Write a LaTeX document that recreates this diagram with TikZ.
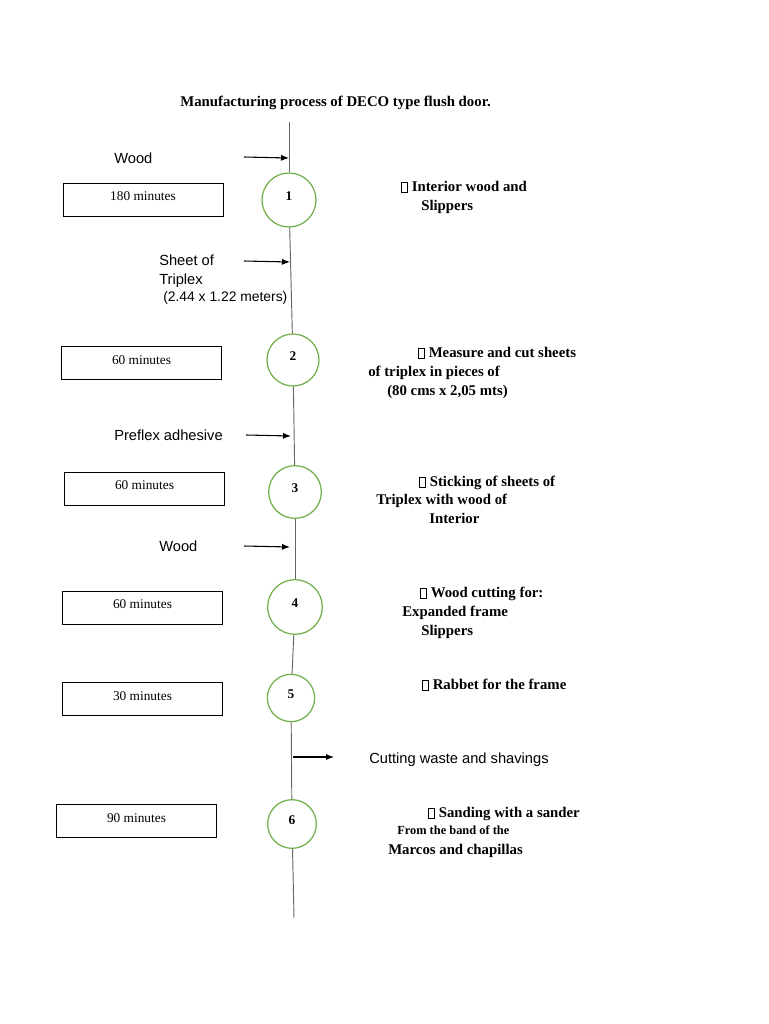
\documentclass[tikz,border=0pt]{standalone}
\usepackage{fontspec}
\setmainfont{Liberation Serif}
\newfontfamily\arialf{Liberation Sans}
\usetikzlibrary{arrows.meta}
\newcommand\nobox{{\setlength\fboxsep{0pt}\setlength\fboxrule{0.45pt}\fbox{\rule{0pt}{7pt}\rule{4.2pt}{0pt}}}}
\definecolor{stepgreen}{RGB}{112,173,71}
\begin{document}
\begin{tikzpicture}[x=0.75pt,y=-0.75pt,
  vline/.style={draw=black!60, line width=0.7pt},
  inarrow/.style={draw=black, line width=0.8pt, -{Latex[length=6pt,width=4.6pt]}},
  stepcircle/.style={circle, draw=stepgreen, line width=0.9pt, inner sep=0pt,
    font=\bfseries\fontsize{10}{12}\selectfont, text height=7pt, text depth=7pt},
  timebox/.style={rectangle, draw=black, line width=0.75pt, minimum width=120pt,
    minimum height=24.75pt, inner sep=0pt, font=\fontsize{10}{12}\selectfont,
    text height=7pt, text depth=5pt},
  rtext/.style={anchor=base west, inner sep=0pt, font=\bfseries\fontsize{11.1}{13}\selectfont},
  rsmall/.style={anchor=base west, inner sep=0pt, font=\bfseries\fontsize{9.3}{11}\selectfont},
  ltext/.style={anchor=base west, inner sep=0pt, font=\arialf\fontsize{11}{13}\selectfont},
]
\useasboundingbox (0,0) rectangle (768,1024);

% title
\node[anchor=base, inner sep=0pt, font=\bfseries\fontsize{11.1}{13}\selectfont] (title) at (335.5,106) {Manufacturing process of DECO type flush door.};

% step circles
\node[stepcircle, minimum size=40.5pt] (c1) at (289,200) {1};
\node[stepcircle, minimum size=39pt] (c2) at (293,360) {2};
\node[stepcircle, minimum size=39.5pt] (c3) at (295,492) {3};
\node[stepcircle, minimum size=41pt] (c4) at (295,607) {4};
\node[stepcircle, minimum size=35.5pt] (c5) at (291,698) {5};
\node[stepcircle, minimum size=36.5pt] (c6) at (292,824) {6};

% vertical line
\coordinate (top) at (289,122);
\coordinate (bot) at (294,918);
\draw[vline] (top) -- (c1);
\draw[vline] (c1) -- (c2);
\draw[vline] (c2) -- (c3);
\draw[vline] (c3) -- (c4);
\draw[vline] (c4) -- (c5);
\draw[vline] (c5) -- (c6);
\draw[vline] (c6) -- (bot);

% time boxes
\node[timebox] (b1) at (143,199.5) {180 minutes};
\node[timebox] (b2) at (141.5,363) {60 minutes};
\node[timebox] (b3) at (144.5,488.5) {60 minutes};
\node[timebox] (b4) at (142.5,607.5) {60 minutes};
\node[timebox] (b5) at (142.5,699) {30 minutes};
\node[timebox] (b6) at (136.5,821) {90 minutes};

% inputs
\node[ltext] (in1) at (114,163) {Wood};
\coordinate (a1s) at (244,157);
\coordinate (a1e) at (289,158);
\draw[inarrow] (a1s) -- (a1e);

\node[ltext] (in2a) at (159,265) {Sheet of};
\node[ltext] (in2b) at (159,284) {Triplex};
\node[ltext, font=\arialf\fontsize{10.4}{13}\selectfont] (in2c) at (163,301) {(2.44 x 1.22 meters)};
\coordinate (a2s) at (244,261);
\coordinate (a2e) at (290,262);
\draw[inarrow] (a2s) -- (a2e);

\node[ltext] (in3) at (114,440) {Preflex adhesive};
\coordinate (a3s) at (246,435);
\coordinate (a3e) at (291,436);
\draw[inarrow] (a3s) -- (a3e);

\node[ltext] (in4) at (159,551) {Wood};
\coordinate (a4s) at (244,546);
\coordinate (a4e) at (290,547);
\draw[inarrow] (a4s) -- (a4e);

% output
\coordinate (o1s) at (293,757);
\coordinate (o1e) at (334,757);
\draw[inarrow] (o1s) -- (o1e);
\node[ltext] (out1) at (369,763) {Cutting waste and shavings};

% descriptions
\node[rtext] (d1a) at (401,191.5) {\nobox\ Interior wood and};
\node[rtext] (d1b) at (421,210.5) {Slippers};

\node[rtext] (d2a) at (418,357.5) {\nobox\ Measure and cut sheets};
\node[rtext] (d2b) at (368,376.5) {of triplex in pieces of};
\node[rtext] (d2c) at (387,395.5) {(80 cms x 2,05 mts)};

\node[rtext] (d3a) at (419,486.5) {\nobox\ Sticking of sheets of};
\node[rtext] (d3b) at (376,504.5) {Triplex with wood of};
\node[rtext] (d3c) at (429,523.5) {Interior};

\node[rtext] (d4a) at (420,597.5) {\nobox\ Wood cutting for:};
\node[rtext] (d4b) at (402,616.5) {Expanded frame};
\node[rtext] (d4c) at (421,635.5) {Slippers};

\node[rtext] (d5a) at (422,689.5) {\nobox\ Rabbet for the frame};

\node[rtext] (d6a) at (428,817.5) {\nobox\ Sanding with a sander};
\node[rsmall] (d6b) at (397,834) {From the band of the};
\node[rtext] (d6c) at (388,854) {Marcos and chapillas};
\end{tikzpicture}
\end{document}
